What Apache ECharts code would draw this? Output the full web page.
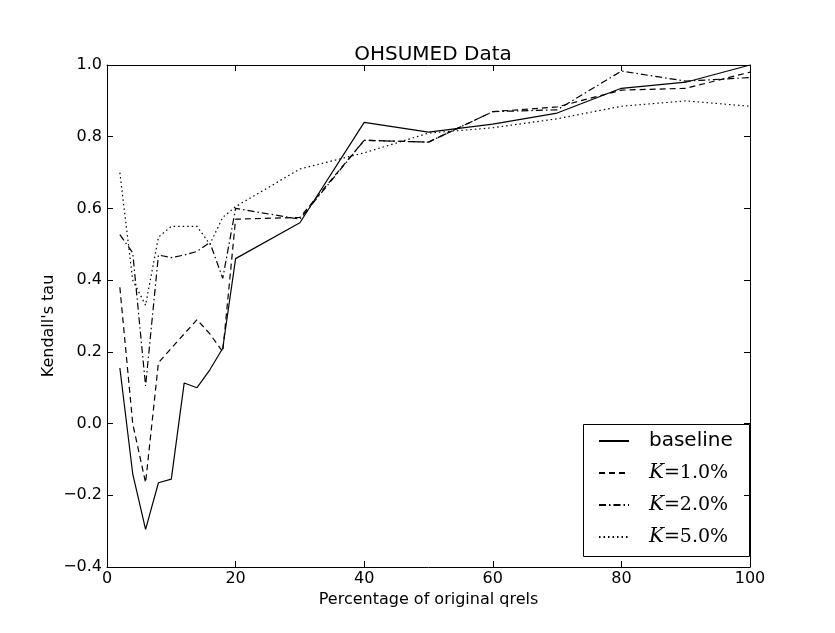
<!DOCTYPE html>
<html>
<head>
<meta charset="utf-8">
<script src="https://cdn.jsdelivr.net/npm/echarts@6/dist/echarts.min.js"></script>
<style>
  html, body { margin: 0; padding: 0; background: #fff; }
  #chart { width: 835px; height: 633px; }
</style>
</head>
<body>
<div id="chart"></div>
<script>
// percentage of original qrels
var xValues = [2, 4, 6, 8, 10, 12, 14, 16, 18, 20, 30, 40, 50, 60, 70, 80, 90, 100];

var baseline = [0.155, -0.14, -0.295, -0.165, -0.155, 0.113, 0.10, 0.15, 0.21, 0.46,
                0.56, 0.84, 0.813, 0.835, 0.866, 0.935, 0.952, 1.0];
var k1 = [0.38, 0.0, -0.165, 0.17, 0.21, 0.25, 0.29, 0.25, 0.20, 0.57,
          0.575, 0.79, 0.785, 0.87, 0.883, 0.93, 0.935, 0.98];
var k2 = [0.527, 0.476, 0.105, 0.47, 0.463, 0.47, 0.48, 0.505, 0.405, 0.60,
          0.57, 0.79, 0.785, 0.87, 0.875, 0.983, 0.955, 0.965];
var k5 = [0.70, 0.40, 0.33, 0.52, 0.55, 0.55, 0.55, 0.50, 0.575, 0.605,
          0.71, 0.755, 0.81, 0.825, 0.85, 0.885, 0.90, 0.885];

var seriesNames = ["baseline", "K=1.0%", "K=2.0%", "K=5.0%"];
var dashTypes = ["solid", [6, 4], [7, 3, 1.5, 3], [1.5, 3]];

function pairs(ys) {
  return xValues.map(function (x, i) { return [x, ys[i]]; });
}

var chart = echarts.init(document.getElementById("chart"));

var tick = { show: true, inside: true, length: 6, lineStyle: { color: "#000", width: 1 } };
var line = { show: true, onZero: false, lineStyle: { color: "#000", width: 1 } };
var label = { color: "#000", fontSize: 16, fontFamily: "DejaVu Sans" };

var series = [baseline, k1, k2, k5].map(function (ys, i) {
  return {
    name: seriesNames[i],
    type: "line",
    data: pairs(ys),
    symbol: "none",
    animation: false,
    lineStyle: { color: "#000", width: 1.2, type: dashTypes[i] },
    itemStyle: { color: "#000" }
  };
});

var option = {
  backgroundColor: "#fff",
  title: {
    text: "OHSUMED Data",
    left: 428,
    top: 40,
    textAlign: "center",
    textStyle: { fontFamily: "DejaVu Sans", fontSize: 20, fontWeight: "normal", color: "#000" }
  },
  grid: { left: 107, right: 85, top: 65, bottom: 66 },
  legend: {
    left: 593,
    top: 426,
    orient: "vertical",
    itemWidth: 30,
    itemHeight: 20,
    itemGap: 12,
    data: seriesNames,
    itemStyle: { opacity: 0 },
    formatter: function (name) {
      if (name === "baseline") return "{s|baseline}";
      return "{i|K}{r|" + name.slice(1) + "}";
    },
    textStyle: {
      color: "#000",
      padding: [0, 0, 0, 15],
      lineHeight: 20,
      rich: {
        s: { fontFamily: "DejaVu Sans", fontSize: 20, color: "#000" },
        i: { fontFamily: "DejaVu Serif", fontStyle: "italic", fontSize: 20, color: "#000" },
        r: { fontFamily: "DejaVu Serif", fontSize: 19, color: "#000" }
      }
    }
  },
  graphic: [{
    type: "rect",
    shape: { x: 583.5, y: 424.5, width: 166, height: 132 },
    style: { fill: "none", stroke: "#000", lineWidth: 1 },
    z: 100
  }],
  xAxis: [{
    type: "value",
    min: 0, max: 100, interval: 20,
    name: "Percentage of original qrels",
    nameLocation: "middle",
    nameGap: 22,
    nameTextStyle: { color: "#000", fontSize: 16, fontFamily: "DejaVu Sans" },
    axisLine: line, axisTick: tick,
    axisLabel: Object.assign({ margin: 4 }, label),
    splitLine: { show: false }
  }, {
    type: "value", position: "top",
    min: 0, max: 100, interval: 20,
    axisLine: line, axisTick: tick,
    axisLabel: { show: false }, splitLine: { show: false }
  }],
  yAxis: [{
    type: "value",
    min: -0.4, max: 1.0, interval: 0.2,
    name: "Kendall's tau",
    nameLocation: "middle",
    nameGap: 50,
    nameMoveOverlap: false,
    nameTextStyle: { color: "#000", fontSize: 16, fontFamily: "DejaVu Sans", padding: [0, 20, 0, 0] },
    axisLine: line, axisTick: tick,
    axisLabel: Object.assign({
      margin: 5,
      formatter: function (v) { return v.toFixed(1).replace("-", "\u2212"); }
    }, label),
    splitLine: { show: false }
  }, {
    type: "value", position: "right",
    min: -0.4, max: 1.0, interval: 0.2,
    axisLine: line, axisTick: tick,
    axisLabel: { show: false }, splitLine: { show: false }
  }],
  series: series
};

chart.setOption(option);
</script>
</body>
</html>
